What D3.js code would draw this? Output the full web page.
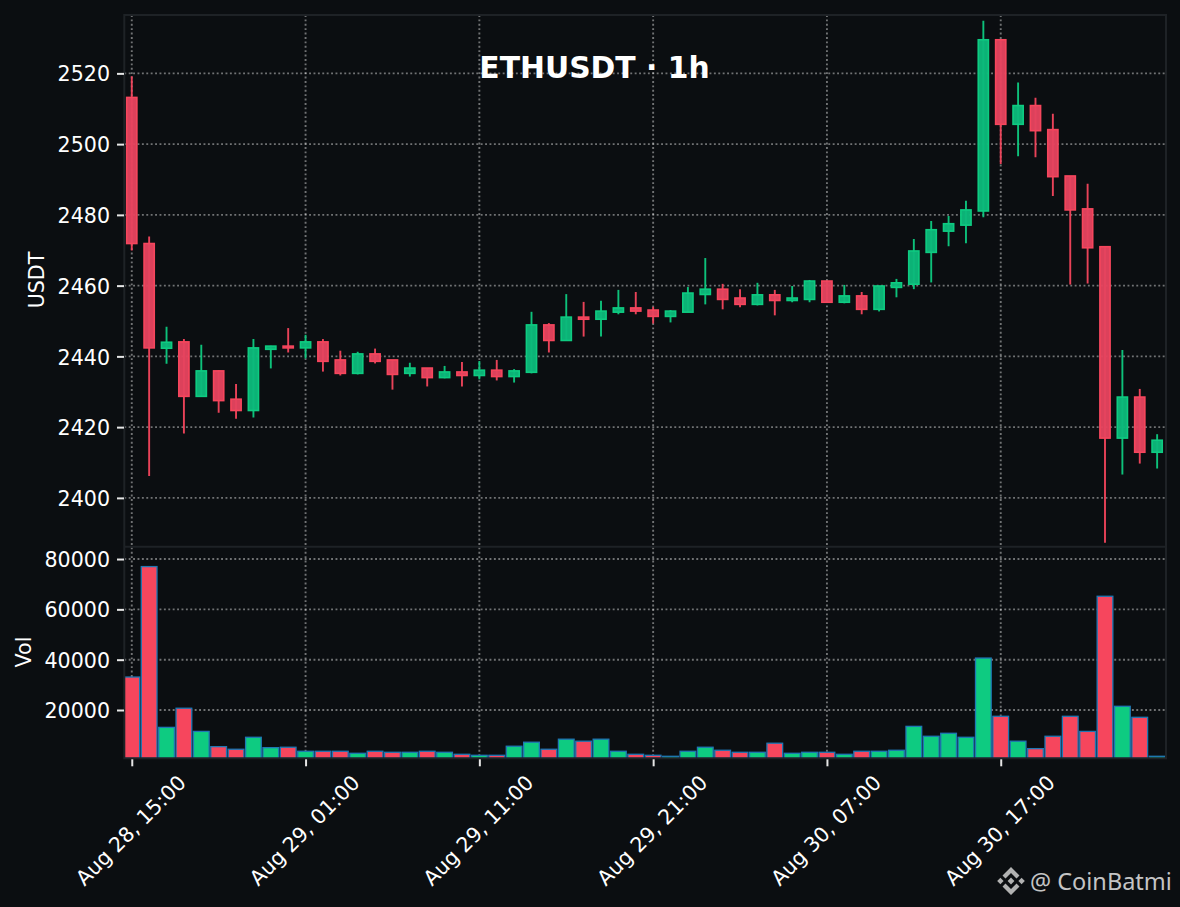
<!DOCTYPE html>
<html>
<head>
<meta charset="utf-8">
<script src="https://cdnjs.cloudflare.com/ajax/libs/d3/7.8.5/d3.min.js"></script>
<style>
  html, body { margin: 0; padding: 0; background: #0b0e11; }
  svg { display: block; }
  text { font-family: "DejaVu Sans", sans-serif; }
</style>
</head>
<body>
<svg id="chart" width="1180" height="907"></svg>
<script>
// candles, oldest first, one per hour
var opens  = [2513.2,2471.9,2442.3,2444.1,2428.7,2435.9,2427.9,2424.7,2442.0,2442.9,2442.4,2444.1,2439.0,2435.2,2440.7,2439.0,2435.2,2436.7,2434.0,2435.6,2434.6,2436.1,2434.3,2435.5,2448.9,2444.5,2451.1,2450.5,2452.5,2453.7,2453.1,2451.3,2452.5,2457.5,2459.0,2456.5,2454.7,2457.4,2455.8,2456.1,2461.3,2455.3,2457.1,2453.3,2459.5,2460.4,2469.4,2475.4,2477.1,2481.1,2529.5,2505.6,2510.9,2504.1,2491.0,2481.7,2471.0,2416.9,2428.5,2412.9]
var highs  = [2519.2,2473.9,2448.4,2444.9,2443.3,2436.1,2432.2,2444.9,2443.0,2448.0,2446.1,2444.9,2441.6,2441.3,2442.2,2439.0,2438.2,2436.7,2437.3,2438.4,2438.7,2439.0,2436.4,2452.6,2449.4,2457.6,2455.4,2455.7,2458.8,2458.2,2454.0,2453.1,2459.6,2467.8,2460.5,2459.0,2460.8,2458.8,2459.9,2461.6,2461.3,2460.2,2458.2,2459.9,2461.9,2473.2,2478.3,2479.7,2484.0,2534.9,2529.5,2517.4,2513.1,2508.6,2491.0,2488.8,2471.0,2441.8,2430.8,2418.0]
var lows   = [2469.9,2406.2,2437.9,2418.2,2428.7,2424.1,2422.4,2422.7,2436.6,2441.1,2439.4,2435.7,2434.6,2434.9,2438.0,2430.6,2434.3,2431.5,2433.8,2431.5,2433.5,2433.2,2432.6,2435.2,2441.1,2444.5,2445.6,2445.6,2451.9,2451.9,2449.3,2449.6,2452.5,2454.7,2453.3,2453.9,2454.4,2451.6,2455.3,2455.3,2455.3,2455.0,2451.9,2452.7,2456.7,2459.0,2460.9,2471.1,2472.0,2479.3,2494.4,2496.6,2496.3,2485.3,2460.3,2460.6,2387.3,2406.6,2409.7,2408.3]
var closes = [2471.9,2442.4,2444.0,2428.7,2435.9,2427.5,2424.7,2442.4,2442.9,2442.4,2444.1,2438.6,2435.2,2440.7,2438.6,2434.9,2436.7,2434.0,2435.6,2434.6,2436.1,2434.3,2435.9,2448.9,2444.5,2451.1,2450.5,2452.8,2453.7,2452.8,2451.3,2452.8,2457.9,2459.0,2456.1,2454.7,2457.4,2455.8,2456.5,2461.3,2455.3,2457.1,2453.3,2459.9,2460.8,2469.8,2475.8,2477.5,2481.4,2529.5,2505.6,2510.9,2503.8,2490.8,2481.4,2470.7,2416.9,2428.5,2412.9,2416.3]
var volumes = [33100,77000,13100,20700,11500,5440,4400,9160,5040,5200,3600,3600,3600,2800,3600,3200,3200,3600,3200,2400,2000,2000,5600,7200,4400,8400,7600,8400,3600,2400,2000,1600,3600,5200,4000,3200,3200,6800,2800,3200,3200,2400,3600,3600,4000,13500,9560,10750,9160,40640,17500,7600,4650,9560,17500,11500,65200,21470,17100,1600]
var tickIndex  = [0,10,20,30,40,50]
var tickLabels = ["Aug 28, 15:00","Aug 29, 01:00","Aug 29, 11:00","Aug 29, 21:00","Aug 30, 07:00","Aug 30, 17:00"]
var priceTicks = [2400,2420,2440,2460,2480,2500,2520]
var volTicks   = [20000,40000,60000,80000]

var candles = opens.map(function(o, i){
    return {i: i, open: o, high: highs[i], low: lows[i], close: closes[i], volume: volumes[i]}
})

var dimensions = {
    left: 124.3,
    right: 1166,
    top: 15,
    split: 546.7,
    bottom: 758.3
}

var green = "#0ecb81", red = "#f6465d", spine = "#1e2226", tickColor = "#e6e6e6"

var svg = d3.select("#chart")

var xScale = d3.scaleLinear()
               .domain([-0.43, 59.51])
               .range([dimensions.left, dimensions.right])

var yScale = d3.scaleLinear()
               .domain([2386.2, 2536.5])
               .range([dimensions.split, dimensions.top])

var volScale = d3.scaleLinear()
                 .domain([805, 84900])
                 .range([dimensions.bottom, dimensions.split])

var colorOf = function(d){ return d.close >= d.open ? green : red }

var defs = svg.append("defs")
defs.append("clipPath").attr("id", "clip-all").append("rect")
    .attr("x", dimensions.left).attr("y", dimensions.top)
    .attr("width", dimensions.right - dimensions.left)
    .attr("height", dimensions.bottom - dimensions.top)

// grid
var grid = svg.append("g")
              .attr("stroke", "#ffffff")
              .attr("stroke-opacity", 0.42)
              .attr("stroke-width", 1.9)
              .attr("stroke-dasharray", "1.9 2.5")

grid.selectAll(".gv").data(tickIndex).enter().append("line")
    .attr("x1", d => xScale(d)).attr("x2", d => xScale(d))
    .attr("y1", dimensions.top).attr("y2", dimensions.bottom)

grid.selectAll(".gp").data(priceTicks).enter().append("line")
    .attr("x1", dimensions.left).attr("x2", dimensions.right)
    .attr("y1", d => yScale(d)).attr("y2", d => yScale(d))

grid.selectAll(".gq").data(volTicks).enter().append("line")
    .attr("x1", dimensions.left).attr("x2", dimensions.right)
    .attr("y1", d => volScale(d)).attr("y2", d => volScale(d))

// candles
var candleG = svg.append("g").attr("clip-path", "url(#clip-all)")

candleG.selectAll(".wick").data(candles).enter().append("line")
       .attr("x1", d => xScale(d.i)).attr("x2", d => xScale(d.i))
       .attr("y1", d => yScale(d.high)).attr("y2", d => yScale(d.low))
       .attr("stroke", colorOf)
       .attr("stroke-opacity", 0.95)
       .attr("stroke-width", 1.9)

candleG.selectAll(".body").data(candles).enter().append("rect")
       .attr("x", d => xScale(d.i) - 5.1)
       .attr("width", 10.2)
       .attr("y", d => yScale(Math.max(d.open, d.close)))
       .attr("height", d => Math.abs(yScale(d.open) - yScale(d.close)))
       .attr("fill", d => d.close >= d.open ? "#0db97b" : "#e5445f")
       .attr("fill-opacity", 0.96)
       .attr("stroke", colorOf)
       .attr("stroke-width", 1.6)

// volume
var barG = svg.append("g").attr("clip-path", "url(#clip-all)")

barG.selectAll("rect").data(candles).enter().append("rect")
    .attr("x", d => xScale(d.i) - 7.85)
    .attr("width", 15.7)
    .attr("y", d => volScale(d.volume))
    .attr("height", d => dimensions.bottom - volScale(d.volume))
    .attr("fill", colorOf)
    .attr("stroke", "#1f77b4")
    .attr("stroke-width", 1.3)

// frame
svg.append("rect")
   .attr("x", dimensions.left).attr("y", dimensions.top)
   .attr("width", dimensions.right - dimensions.left)
   .attr("height", dimensions.bottom - dimensions.top)
   .attr("fill", "none").attr("stroke", spine).attr("stroke-width", 2)
svg.append("line")
   .attr("x1", dimensions.left).attr("x2", dimensions.right)
   .attr("y1", dimensions.split).attr("y2", dimensions.split)
   .attr("stroke", spine).attr("stroke-width", 2)

// axes
function styleAxis(g){
    g.select(".domain").remove()
    g.selectAll(".tick line").attr("stroke", tickColor).attr("stroke-width", 2)
    g.selectAll(".tick text").attr("fill", "#ffffff").style("font-size", "20.6px")
}

var priceAxis = svg.append("g")
    .attr("transform", `translate(${dimensions.left - 0.3},0)`)
    .call(d3.axisLeft(yScale).tickValues(priceTicks).tickSize(7).tickPadding(7).tickFormat(d3.format("d")))
    .call(styleAxis)

var volAxis = svg.append("g")
    .attr("transform", `translate(${dimensions.left - 0.3},0)`)
    .call(d3.axisLeft(volScale).tickValues(volTicks).tickSize(7).tickPadding(7).tickFormat(d3.format("d")))
    .call(styleAxis)

priceAxis.selectAll(".tick text").attr("dy", "0.37em")
volAxis.selectAll(".tick text").attr("dy", "0.37em")

var timeAxis = svg.append("g")
    .attr("transform", `translate(0,${dimensions.bottom + 1})`)
    .call(d3.axisBottom(xScale).tickValues(tickIndex).tickSize(7).tickFormat((d, i) => tickLabels[i]))
    .call(styleAxis)

timeAxis.selectAll(".tick text")
    .attr("text-anchor", "middle")
    .attr("dy", "0.35em")
    .attr("y", 0)
    .attr("transform", "translate(-1.5,71) rotate(-45)")

svg.append("text")
   .attr("transform", "translate(44,280) rotate(-90)")
   .attr("text-anchor", "middle")
   .attr("fill", "#ffffff").style("font-size", "20.6px")
   .text("USDT")

svg.append("text")
   .attr("transform", "translate(31,652) rotate(-90)")
   .attr("text-anchor", "middle")
   .attr("fill", "#ffffff").style("font-size", "20.6px")
   .text("Vol")

svg.append("text")
   .attr("x", 594.5).attr("y", 78)
   .attr("text-anchor", "middle")
   .attr("fill", "#ffffff")
   .style("font-size", "29.8px").style("font-weight", "bold")
   .text("ETHUSDT · 1h")

// watermark
var mark = svg.append("g").attr("transform", "translate(1011,881)").attr("fill", "#c4c4c4").attr("opacity", 0.9)
mark.append("path").attr("d", "M0,-14 L8.5,-5.5 L5.5,-2.6 L0,-8 L-5.5,-2.6 L-8.5,-5.5 Z")
mark.append("path").attr("d", "M0,14 L8.5,5.5 L5.5,2.6 L0,8 L-5.5,2.6 L-8.5,5.5 Z")
mark.append("path").attr("d", "M0,-3.4 L3.4,0 L0,3.4 L-3.4,0 Z")
mark.append("path").attr("d", "M-10.6,-3.2 L-7.4,0 L-10.6,3.2 L-13.8,0 Z")
mark.append("path").attr("d", "M10.6,-3.2 L13.8,0 L10.6,3.2 L7.4,0 Z")

svg.append("text")
   .attr("x", 1030).attr("y", 890)
   .attr("fill", "#c4c4c4")
   .style("font-family", "'Noto Sans'")
   .style("font-size", "23.5px")
   .text("@ CoinBatmi")
</script>
</body>
</html>
